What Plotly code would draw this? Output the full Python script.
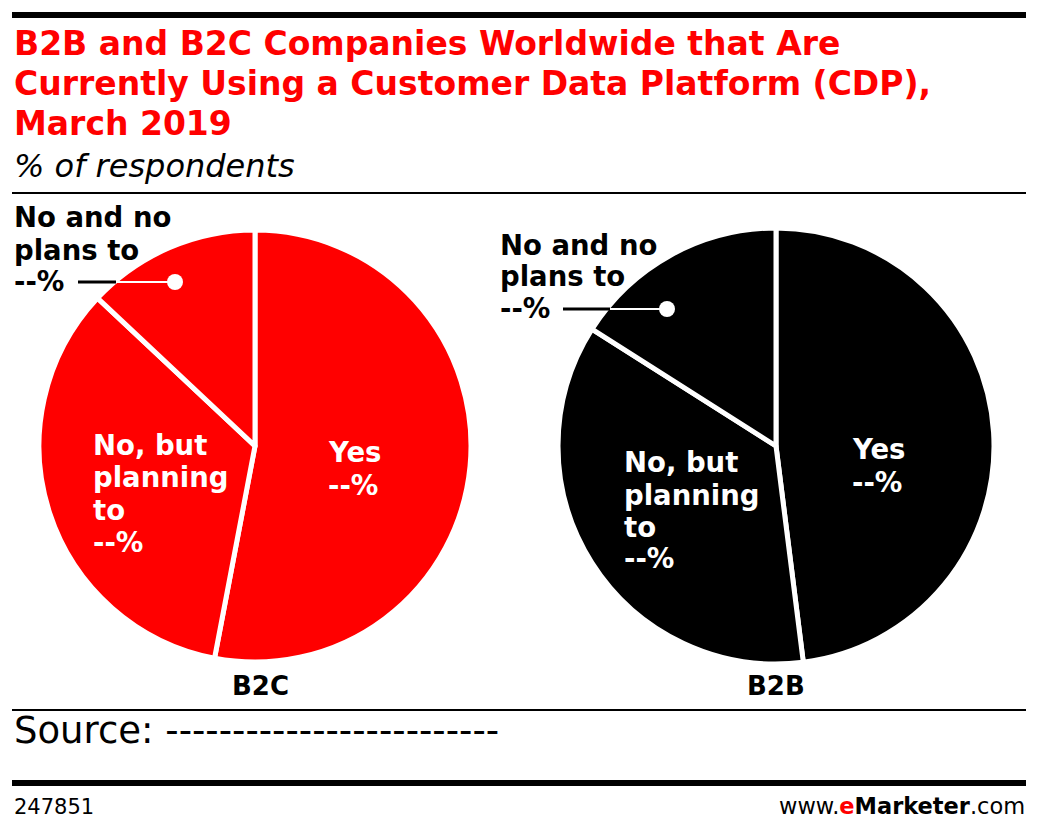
import plotly.graph_objects as go

W, H = 1038, 833

# data
labels = ["Yes", "No, but planning to", "No and no plans to"]
b2c_values = [53, 34, 13]
b2b_values = [48, 36, 16]
groups = ["B2C", "B2B"]
pct_text = "--%"

RED = "#ff0000"
FONT = "DejaVu Sans"


def px(x):
    return x / W


def py(y):
    return 1 - y / H


fig = go.Figure()

# pie geometry in pixels: (center x, center y, radius)
pies = [(255, 446, 216, b2c_values, RED), (776, 446, 218, b2b_values, "#000000")]
for cx, cy, r, vals, col in pies:
    fig.add_trace(go.Pie(
        labels=labels,
        values=vals,
        sort=False,
        direction="clockwise",
        rotation=0,
        textinfo="none",
        hoverinfo="label+value",
        marker=dict(colors=[col] * 3, line=dict(color="white", width=5)),
        domain=dict(x=[px(cx - r), px(cx + r)], y=[py(cy + r), py(cy - r)]),
        showlegend=False,
    ))

annotations = []


def txt(x, baseline, text, size, color="#000000", weight="bold",
        xanchor="left", style="normal"):
    # place one line of text by its baseline (DejaVu metrics)
    annotations.append(dict(
        x=px(x), y=py(baseline - 0.346 * size), xref="paper", yref="paper", text=text,
        showarrow=False, xanchor=xanchor, yanchor="middle", align="left",
        font=dict(family=FONT, size=size, color=color, weight=weight, style=style),
    ))


def block(x, baselines, lines, size, color="#000000"):
    for b, t in zip(baselines, lines):
        txt(x, b, t, size, color=color)


# title block
title_lines = ["B2B and B2C Companies Worldwide that Are",
               "Currently Using a Customer Data Platform (CDP),",
               "March 2019"]
block(12, [55, 95, 135], title_lines, 33, color=RED)
txt(12, 177, "% of respondents", 32, weight="normal", style="italic")

# slice labels
LS = 27.5
block(12, [227, 260, 291], ["No and no", "plans to", pct_text], LS)
block(326, [462, 495], ["Yes", pct_text], LS, color="white")
block(91, [455, 487, 520, 552], ["No, but", "planning", "to", pct_text], LS, color="white")

block(498, [255, 286, 318], ["No and no", "plans to", pct_text], LS)
block(850, [459, 492], ["Yes", pct_text], LS, color="white")
block(622, [472, 505, 537, 568], ["No, but", "planning", "to", pct_text], LS, color="white")

# group names
txt(260, 695, groups[0], 26, xanchor="center")
txt(776, 695, groups[1], 26, xanchor="center")

# source & footer
txt(12, 743, "Source: " + "-" * 25, 37, weight="normal")
txt(12, 814, "247851", 21, weight="normal")
txt(1027, 814, "www.<span style='color:#ff0000'><b>e</b></span><b>Marketer</b>.com", 22.5,
    weight="normal", xanchor="right")

shapes = [
    dict(type="rect", x0=px(12), x1=px(1026), y0=py(12), y1=py(18), fillcolor="black", line_width=0),
    dict(type="line", x0=px(12), x1=px(1026), y0=py(193), y1=py(193), line=dict(color="black", width=2)),
    dict(type="line", x0=px(12), x1=px(1026), y0=py(710), y1=py(710), line=dict(color="black", width=2)),
    dict(type="rect", x0=px(12), x1=px(1026), y0=py(780), y1=py(786), fillcolor="black", line_width=0),
]

# leader lines for the small slices
for x0, xm, x1, y in [(78, 116, 175, 282), (563, 610, 667, 309)]:
    shapes.append(dict(type="line", x0=px(x0), x1=px(xm), y0=py(y), y1=py(y),
                       line=dict(color="black", width=3)))
    shapes.append(dict(type="line", x0=px(xm), x1=px(x1), y0=py(y), y1=py(y),
                       line=dict(color="white", width=2)))
    shapes.append(dict(type="circle", x0=px(x1 - 8), x1=px(x1 + 8), y0=py(y + 8), y1=py(y - 8),
                       fillcolor="white", line_width=0))

fig.update_layout(
    width=W, height=H,
    margin=dict(l=0, r=0, t=0, b=0),
    paper_bgcolor="white",
    plot_bgcolor="white",
    annotations=annotations,
    shapes=shapes,
)

fig.write_html("out.html", config={"displayModeBar": False},
               post_script="document.body.style.margin='0';")
